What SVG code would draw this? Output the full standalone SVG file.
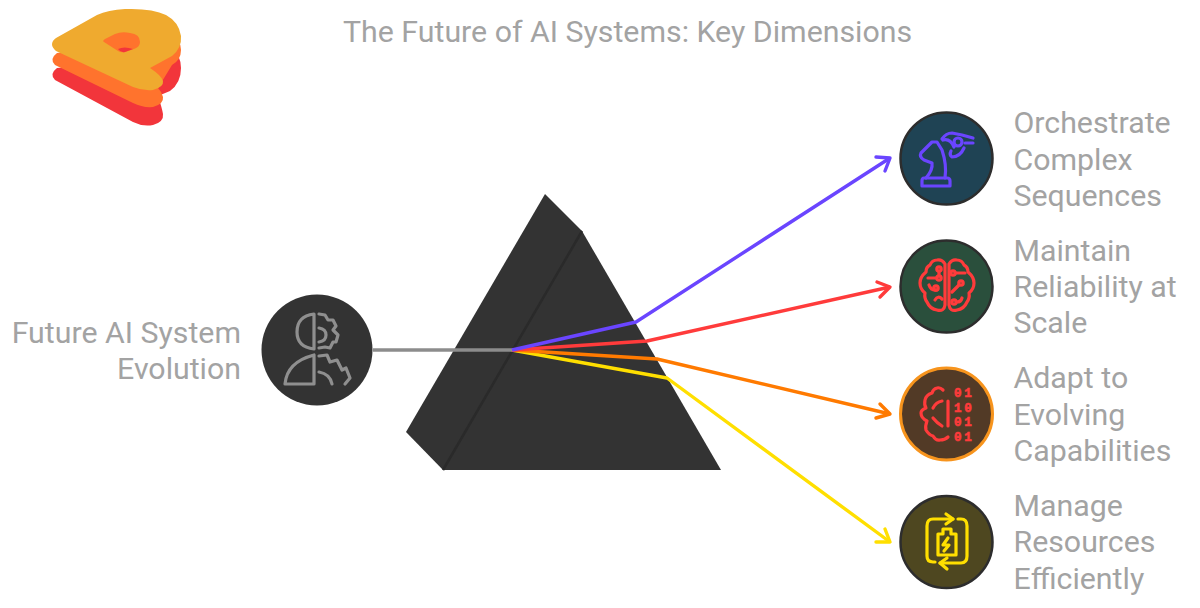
<svg xmlns="http://www.w3.org/2000/svg" width="1200" height="608" viewBox="0 0 1200 608">
<style>
text{font-family:Roboto,"Liberation Sans",sans-serif;font-size:30.300px;fill:#a3a3a3}
.ic{fill:none;stroke-width:3.200;stroke-linecap:round;stroke-linejoin:round}
.ring{stroke:#2d2d2d;stroke-width:2.5}
.beam{fill:none;stroke-width:3.400;stroke-linejoin:round}
.head{fill:none;stroke-width:3.400;stroke-linecap:round;stroke-linejoin:round}
.bin{font-family:"Liberation Mono","DejaVu Sans Mono",monospace;font-size:12.600px;font-weight:700;fill:#ff3b3b;letter-spacing:2.800px;stroke:#ff3b3b;stroke-width:.6px}
</style>
<rect width="1200" height="608" fill="#fff"/>
<g id="logo">
<path id="logo-red" d="M57 68Q49 74 55 80L133 122Q143 127 153 125Q164 122 163 114Q162 108 158 96L170 91Q181 83 181 68Q181 55 170 45L150 60Z" fill="#f2353b"/>
<path id="logo-orange" d="M57 53Q49 59 55 65L133 103Q143 108 153 107Q164 104 163 97Q162 92 158 88L172 65Q181 60 181 50Q181 40 170 30L150 40Z" fill="#ff732d"/>
<path id="logo-gold" d="M56 38Q48 44 56 51L133 87Q143 91 153 90Q164 87 163 81Q162 76 150 68L172 56Q182 48 181 36Q179 22 166 15Q152 8 125 9Q108 10 97 15Z" fill="#efaa2f"/>
<path d="M104 42Q102 41 105 39L115 34Q122 31 130 33Q140 34 140 42Q140 47 134 49L125 52Q121 53 118 51Z" fill="#ff732d"/>
<path d="M118 49Q124 46 133 49L125 52Q121 53 118 49Z" fill="#f2353b"/>
</g>
<text id="title" x="343" y="42">The Future of AI Systems: Key Dimensions</text>
<g id="prism">
<path d="M545 194L582 231L721 470H443L406 432Z" fill="#333"/>
<path d="M582 231L443 470" fill="none" stroke="#2a2a2a" stroke-width="2.500"/>
</g>
<g id="connectors">
<path class="beam" stroke="#8c8c8c" d="M373 350H512"/>
<path class="beam" stroke="#ffdf00" d="M512 350L667 378L890 542"/>
<path class="beam" stroke="#ff7a00" d="M512 350L657 359L890 414"/>
<path class="beam" stroke="#ff3b3b" d="M512 350L647 341L890 287"/>
<path class="beam" stroke="#6a45ff" d="M512 350L636 322L890 158"/>
<path class="head" stroke="#6a45ff" d="M876 157L890 158L885 171"/>
<path class="head" stroke="#ff3b3b" d="M877 282L890 287L880 297"/>
<path class="head" stroke="#ff7a00" d="M880 404L890 414L876 418"/>
<path class="head" stroke="#ffdf00" d="M885 529L890 542L876 542"/>
</g>
<g id="node-source">
<circle cx="317" cy="350" r="55.500" fill="#333"/>
<g class="ic" stroke="#8f8f8f">
<path d="M314 314Q297 316 297 332Q297 347 314 349Z"/>
<path d="M314 355V384H285Q287 362 314 355Z"/>
<path d="M319 314L325 315L328 320L333 320L336 326L333 330L338 335L336 342L333 342L330 348L325 347L319 348"/>
<path d="M319 328Q326 329 326 335Q326 341 319 342"/>
<path d="M319 356L327 355L330 362L337 360L342 370L346 368L350 378L345 384"/>
<path d="M319 372Q330 374 332 384"/>
</g>
<text x="241" y="343" text-anchor="end">Future AI System</text>
<text x="241" y="379" text-anchor="end">Evolution</text>
</g>
<g id="node-orchestrate">
<circle class="ring" cx="946.500" cy="158.500" r="46" fill="#1f4354"/>
<g class="ic" stroke="#6a45ff">
<path d="M924 178H947Q950 178 950 181V186H922V181Q922 178 924 178Z"/>
<path d="M926 178Q933 170 932 163L924 160Q919 157 921 153L932 142H937L942 150Q947 165 945 178"/>
<path d="M942 139Q946 133 952 133L962 135L973 138"/>
<path d="M943 140Q950 138 954 147"/>
<circle cx="958" cy="142" r="4"/>
<path d="M965 143H973M964 148Q960 157 952 157Q949 155 951 151"/>
</g>
<text x="1013.500" y="133">Orchestrate</text>
<text x="1013.500" y="170">Complex</text>
<text x="1013.500" y="206">Sequences</text>
</g>
<g id="node-reliability">
<circle class="ring" cx="946.500" cy="286.500" r="46" fill="#2a4f3c"/>
<g class="ic" stroke="#ff3b3b">
<path d="M945 305V264Q942 259 937 260Q932 260 930 265Q926 267 926 272Q920 277 920 283Q920 289 925 293Q924 298 927 302Q930 309 937 310Q944 312 945 305"/>
<path d="M949 305V264Q952 259 957 260Q962 260 964 265Q968 267 968 272Q974 277 974 283Q974 289 969 293Q970 298 967 302Q964 309 957 310Q950 312 949 305"/>
<path d="M939 271V276M936 278H928M937 290Q931 291 929 285M935 300Q938 295 942 299"/>
<path d="M956 273H965M959 285L952 292M957 302Q961 302 962 298"/>
<circle cx="939" cy="269" r="2.200"/><circle cx="939" cy="278" r="2.200"/><circle cx="936" cy="288" r="2.200"/><circle cx="953" cy="273" r="2.200"/><circle cx="961" cy="283" r="2.200"/><circle cx="954" cy="302" r="2.200"/>
</g>
<text x="1013.500" y="261">Maintain</text>
<text x="1013.500" y="297">Reliability at</text>
<text x="1013.500" y="333">Scale</text>
</g>
<g id="node-adapt">
<circle cx="946.500" cy="414" r="46" fill="#523a26" stroke="#f7941d" stroke-width="3"/>
<g class="ic" stroke="#ff3b3b">
<path d="M943 390Q940 387 937 388Q933 389 932 393Q926 395 925 400Q924 405 926 408Q921 410 921 413Q921 418 927 421Q925 426 926 430Q929 435 933 436Q936 441 940 440Q945 440 948 437"/>
<path d="M948 401V426M942 401Q936 402 933 408M942 426Q937 423 933 418"/>
</g>
<text class="bin" x="954" y="397">01</text>
<text class="bin" x="954" y="411.500">10</text>
<text class="bin" x="954" y="426">01</text>
<text class="bin" x="954" y="440.500">01</text>
<text x="1013.500" y="388">Adapt to</text>
<text x="1013.500" y="425">Evolving</text>
<text x="1013.500" y="461">Capabilities</text>
</g>
<g id="node-resources">
<circle class="ring" cx="946.500" cy="542" r="46" fill="#4e4720"/>
<g class="ic" stroke="#ffdf00">
<path d="M953 519H933Q927 519 927 526V556Q927 562 933 562H935"/>
<path d="M946 514L953 519L946 524"/>
<path d="M958 519H961Q967 519 967 526V556Q967 563 961 563H940"/>
<path d="M947 558L940 563L947 569"/>
<path d="M943 534V529H951V534H956V555H938V534Z"/>
<path d="M948 538L943 545H949L944 551"/>
</g>
<text x="1013.500" y="516">Manage</text>
<text x="1013.500" y="552">Resources</text>
<text x="1013.500" y="589">Efficiently</text>
</g>
</svg>
